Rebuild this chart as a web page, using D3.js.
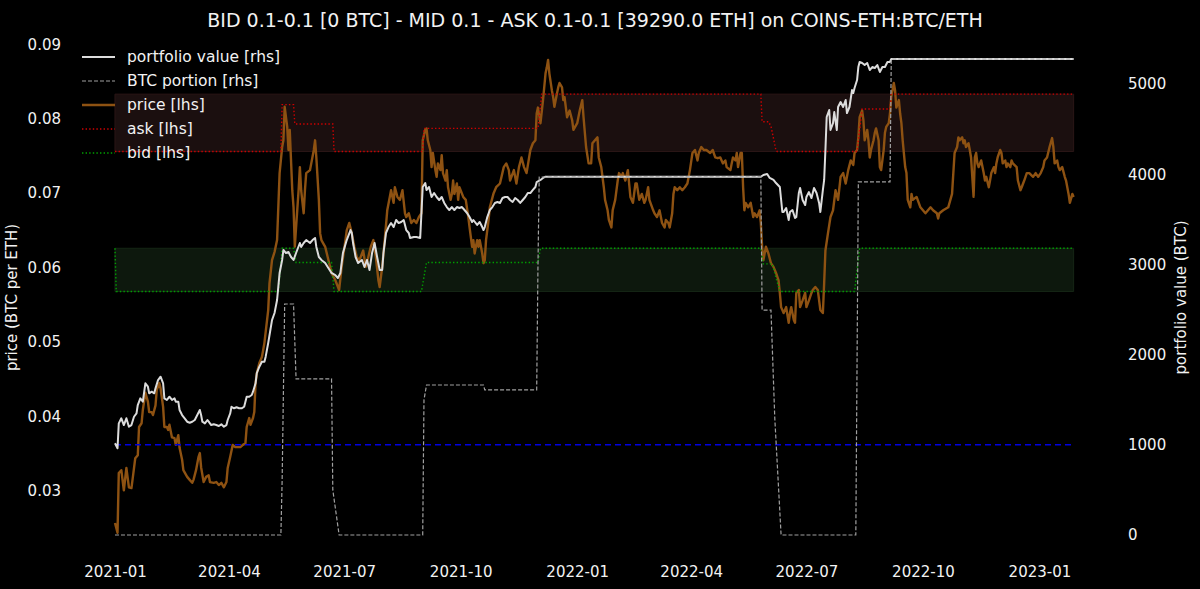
<!DOCTYPE html>
<html lang="en">
<head>
<meta charset="utf-8">
<title>BID / MID / ASK on COINS-ETH:BTC/ETH</title>
<script src="https://cdn.jsdelivr.net/npm/d3@7"></script>
<style>
  body { margin: 0; background: #000; }
  svg { display: block; font-family: "DejaVu Sans", sans-serif; }
</style>
</head>
<body>
<script>
// days are counted from 2021-01-01
var startDay = Date.UTC(2021, 0, 1);
var lastDay = 757;

var titleText = "BID 0.1-0.1 [0 BTC] - MID 0.1 - ASK 0.1-0.1 [39290.0 ETH] on COINS-ETH:BTC/ETH";
var xTicks = ["2021-01-01", "2021-04-01", "2021-07-01", "2021-10-01", "2022-01-01",
              "2022-04-01", "2022-07-01", "2022-10-01", "2023-01-01"];
var leftTicks = [0.03, 0.04, 0.05, 0.06, 0.07, 0.08, 0.09];
var rightTicks = [0, 1000, 2000, 3000, 4000, 5000];
var startValue = 1000;

// price [lhs], BTC per ETH
var price = [
[0,.0257],[2,.0244],[3,.0324],[5,.0328],[7,.0301],[9,.0331],[11,.0305],[13,.0304],[14,.0317],[16,.0344],[18,.0348],[19,.0386],[21,.0391],[22,.0409],[24,.0432],[26,.0420],[27,.0406],[29,.0406],[30,.0402],[32,.0415],[33,.0436],[35,.0445],[36,.0438],[38,.0413],[39,.0386],[41,.0386],[42,.0382],[43,.0389],[45,.0372],[47,.0371],[48,.0362],[50,.0375],[51,.0358],[53,.0342],[54,.0328],[57,.0319],[59,.0315],[61,.0311],[62,.0315],[64,.0328],[66,.0346],[67,.0351],[68,.0332],[70,.0312],[72,.0319],[74,.0321],[75,.0312],[78,.0311],[80,.0312],[82,.0308],[84,.0311],[86,.0305],[88,.0312],[89,.0331],[91,.0346],[93,.0362],[95,.0359],[99,.0359],[101,.0362],[103,.0364],[104,.0386],[106,.0398],[107,.0389],[109,.0398],[110,.0406],[111,.0445],[112,.0458],[114,.0472],[116,.0480],[117,.0489],[118,.0499],[121,.0543],[122,.0579],[124,.0610],[126,.0621],[128,.0637],[130,.0727],[132,.0762],[133,.0771],[134,.0816],[136,.0789],[137,.0758],[138,.0785],[140,.0704],[141,.0681],[142,.0628],[143,.0654],[145,.0704],[146,.0735],[147,.0704],[149,.0673],[150,.0704],[151,.0727],[154,.0731],[157,.0758],[158,.0771],[159,.0748],[161,.0691],[162,.0646],[163,.0637],[166,.0628],[168,.0614],[171,.0593],[174,.0583],[177,.0570],[179,.0601],[182,.0637],[183,.0650],[185,.0660],[187,.0646],[189,.0628],[191,.0614],[193,.0610],[196,.0623],[198,.0601],[200,.0614],[202,.0628],[204,.0637],[206,.0614],[208,.0583],[209,.0574],[211,.0601],[213,.0637],[215,.0677],[217,.0695],[218,.0704],[220,.0687],[221,.0708],[223,.0695],[225,.0691],[227,.0704],[229,.0673],[230,.0668],[232,.0673],[234,.0660],[236,.0664],[238,.0660],[240,.0668],[242,.0673],[243,.0771],[245,.0785],[246,.0787],[247,.0771],[249,.0758],[250,.0735],[251,.0754],[253,.0731],[254,.0722],[255,.0740],[257,.0731],[258,.0751],[259,.0727],[261,.0717],[262,.0731],[263,.0708],[265,.0691],[266,.0699],[267,.0717],[268,.0699],[270,.0713],[271,.0691],[272,.0708],[275,.0695],[277,.0691],[279,.0668],[280,.0654],[282,.0628],[283,.0637],[284,.0619],[286,.0637],[287,.0628],[288,.0637],[290,.0619],[291,.0606],[292,.0610],[293,.0637],[295,.0664],[296,.0681],[299,.0700],[301,.0708],[304,.0713],[307,.0735],[309,.0740],[311,.0731],[312,.0717],[315,.0731],[317,.0713],[319,.0735],[321,.0748],[323,.0735],[325,.0727],[328,.0758],[330,.0767],[332,.0771],[333,.0807],[334,.0815],[336,.0794],[338,.0825],[340,.0861],[341,.0869],[342,.0879],[343,.0861],[345,.0838],[346,.0829],[347,.0816],[349,.0834],[350,.0842],[351,.0848],[353,.0842],[354,.0825],[355,.0829],[357,.0802],[359,.0811],[361,.0798],[362,.0785],[365,.0794],[367,.0811],[369,.0825],[370,.0802],[372,.0762],[374,.0740],[376,.0740],[377,.0767],[379,.0771],[381,.0775],[382,.0748],[384,.0735],[386,.0708],[387,.0691],[389,.0677],[390,.0664],[392,.0654],[393,.0677],[395,.0691],[397,.0717],[398,.0727],[400,.0722],[401,.0727],[403,.0717],[405,.0731],[406,.0713],[407,.0695],[409,.0687],[411,.0713],[412,.0713],[414,.0691],[416,.0699],[418,.0687],[419,.0691],[421,.0708],[422,.0691],[425,.0677],[426,.0673],[428,.0668],[430,.0677],[432,.0660],[434,.0654],[435,.0664],[437,.0660],[438,.0654],[440,.0673],[441,.0699],[442,.0708],[444,.0704],[446,.0708],[448,.0704],[450,.0708],[452,.0713],[454,.0731],[456,.0754],[458,.0758],[460,.0744],[461,.0754],[463,.0762],[465,.0758],[467,.0758],[470,.0754],[472,.0758],[474,.0748],[476,.0747],[478,.0748],[480,.0740],[482,.0744],[483,.0735],[486,.0731],[487,.0740],[488,.0748],[490,.0744],[491,.0754],[492,.0735],[494,.0754],[495,.0754],[496,.0708],[497,.0677],[498,.0687],[500,.0681],[502,.0687],[504,.0668],[505,.0673],[507,.0668],[509,.0677],[510,.0660],[511,.0628],[512,.0610],[514,.0628],[516,.0619],[518,.0606],[520,.0601],[522,.0593],[524,.0583],[525,.0566],[526,.0547],[528,.0539],[530,.0547],[532,.0526],[533,.0539],[534,.0547],[536,.0530],[537,.0526],[538,.0566],[540,.0570],[541,.0547],[543,.0556],[545,.0566],[546,.0547],[548,.0556],[550,.0566],[551,.0570],[553,.0574],[555,.0570],[557,.0543],[559,.0539],[560,.0579],[561,.0623],[563,.0646],[565,.0668],[567,.0677],[569,.0704],[571,.0691],[573,.0722],[575,.0727],[577,.0713],[579,.0731],[581,.0744],[583,.0738],[584,.0754],[586,.0758],[587,.0775],[588,.0802],[590,.0811],[591,.0798],[592,.0771],[594,.0785],[595,.0771],[596,.0748],[597,.0758],[599,.0771],[600,.0781],[601,.0787],[603,.0771],[604,.0735],[605,.0731],[607,.0758],[608,.0781],[609,.0789],[611,.0794],[612,.0807],[613,.0829],[615,.0848],[616,.0838],[617,.0815],[619,.0825],[620,.0807],[621,.0794],[622,.0771],[624,.0735],[625,.0727],[626,.0691],[628,.0681],[629,.0699],[630,.0691],[633,.0695],[636,.0681],[640,.0673],[644,.0681],[646,.0677],[649,.0673],[650,.0666],[651,.0673],[654,.0677],[658,.0681],[661,.0699],[662,.0727],[663,.0754],[665,.0762],[666,.0775],[667,.0771],[669,.0775],[670,.0767],[671,.0771],[672,.0762],[674,.0767],[675,.0758],[676,.0748],[678,.0695],[679,.0748],[680,.0754],[681,.0740],[682,.0735],[684,.0744],[686,.0727],[687,.0717],[688,.0722],[690,.0708],[691,.0717],[692,.0727],[694,.0735],[695,.0727],[696,.0740],[697,.0748],[699,.0758],[700,.0754],[701,.0740],[703,.0744],[704,.0735],[705,.0740],[707,.0735],[708,.0744],[709,.0740],[712,.0735],[713,.0717],[715,.0704],[716,.0708],[718,.0717],[720,.0727],[722,.0727],[725,.0722],[727,.0727],[729,.0722],[731,.0727],[733,.0735],[734,.0744],[736,.0748],[738,.0762],[740,.0774],[741,.0762],[742,.0740],[744,.0744],[745,.0735],[746,.0731],[748,.0735],[750,.0722],[751,.0717],[753,.0699],[754,.0687],[756,.0699],[757,.0695]
];

// portfolio value [rhs], BTC
var portfolio = [
[0,1017],[2,961],[3,1238],[5,1294],[7,1219],[9,1294],[11,1201],[13,1219],[15,1311],[17,1349],[18,1441],[20,1515],[22,1478],[24,1682],[26,1644],[27,1571],[29,1589],[31,1571],[32,1626],[34,1718],[36,1755],[38,1682],[39,1515],[41,1497],[43,1533],[45,1497],[47,1515],[48,1478],[50,1478],[51,1386],[53,1330],[55,1294],[57,1256],[59,1245],[61,1256],[63,1275],[65,1330],[67,1386],[68,1330],[69,1256],[71,1238],[73,1275],[74,1256],[76,1219],[78,1227],[80,1219],[82,1208],[84,1227],[86,1201],[88,1219],[89,1275],[91,1349],[92,1422],[94,1405],[96,1416],[98,1405],[100,1405],[102,1422],[103,1478],[104,1533],[106,1533],[108,1552],[109,1589],[111,1682],[112,1796],[114,1866],[116,1921],[118,1921],[119,1977],[121,2129],[124,2383],[126,2461],[128,2605],[130,2905],[132,3049],[133,3160],[135,3126],[137,3137],[139,3082],[141,3049],[143,3126],[146,3237],[147,3193],[149,3237],[151,3270],[154,3237],[156,3270],[158,3293],[159,3193],[161,3082],[163,3049],[166,3015],[168,2971],[171,2905],[174,2882],[176,2849],[178,2905],[180,3126],[183,3270],[186,3381],[187,3348],[188,3237],[190,3082],[192,3015],[195,3049],[197,2971],[199,3049],[201,2938],[203,3126],[205,3237],[207,3082],[209,2938],[211,2938],[212,3126],[214,3348],[216,3414],[218,3459],[220,3414],[222,3492],[224,3459],[226,3470],[228,3492],[230,3381],[232,3348],[233,3293],[236,3304],[238,3304],[241,3293],[242,3570],[243,3858],[245,3902],[246,3825],[248,3858],[250,3747],[252,3791],[254,3747],[256,3714],[258,3747],[260,3681],[262,3636],[264,3603],[266,3636],[268,3603],[270,3636],[272,3625],[274,3636],[276,3603],[278,3570],[280,3525],[282,3470],[283,3492],[286,3437],[288,3470],[290,3414],[291,3381],[292,3414],[294,3525],[296,3603],[298,3636],[300,3681],[302,3692],[304,3681],[306,3736],[308,3747],[310,3747],[312,3714],[314,3692],[316,3736],[318,3714],[320,3681],[322,3714],[324,3747],[326,3791],[328,3791],[330,3825],[332,3858],[333,3913],[336,3936],[338,3958],[340,3972],[510,3972],[512,3991],[515,4002],[517,3958],[520,3936],[522,3902],[525,3858],[527,3581],[528,3581],[530,3625],[532,3492],[533,3581],[535,3603],[537,3514],[538,3525],[540,3791],[541,3847],[543,3714],[545,3658],[546,3747],[548,3802],[550,3736],[552,3847],[554,3791],[556,3681],[557,3581],[559,3825],[560,3936],[561,4268],[562,4634],[564,4712],[565,4490],[567,4567],[568,4689],[570,4490],[571,4745],[573,4800],[575,4745],[577,4822],[578,4678],[580,4745],[582,4933],[583,4900],[584,4955],[586,5044],[587,5188],[588,5244],[590,5233],[592,5210],[594,5233],[596,5155],[598,5188],[600,5177],[602,5210],[604,5133],[606,5188],[608,5188],[610,5244],[612,5244],[613,5277],[757,5277]
];

// BTC portion [rhs]
var btcPortion = [
[0,0],[131,0],[132,610],[134,2561],[141,2561],[143,1730],[171,1730],[172,500],[177,0],[243,0],[244,1497],[246,1663],[291,1663],[292,1608],[333,1608],[334,2971],[335,3969],[510,3972],[511,2494],[518,2494],[521,1300],[526,0],[585,0],[587,3914],[612,3914],[613,5277],[757,5277]
];

// ask / bid grid levels [lhs]
var ask = [
[0,.0756],[131,.0756],[132,.0819],[141,.0819],[142,.0793],[172,.0793],[173,.0756],[243,.0756],[244,.0787],[334,.0787],[337,.0833],[510,.0833],[511,.0796],[516,.0796],[518,.0790],[522,.0757],[523,.0756],[586,.0756],[590,.0813],[612,.0813],[613,.0833],[757,.0833]
];
var bid = [
[0,.0626],[1,.0568],[129,.0568],[132,.0626],[141,.0626],[143,.0607],[171,.0607],[173,.0568],[242,.0568],[246,.0607],[334,.0607],[336,.0626],[510,.0626],[512,.0605],[519,.0605],[525,.0568],[584,.0568],[588,.0626],[757,.0626]
];

var W = 1200, H = 589;
var plot = {left: 68, right: 1122, top: 36, bottom: 559};

function toDate(d) { return new Date(startDay + d * 864e5); }

var x = d3.scaleUtc()
  .domain([toDate(-37.1), toDate(795.2)])
  .range([plot.left, plot.right]);
var yL = d3.scaleLinear().domain([0.02087, 0.09111]).range([plot.bottom, plot.top]);
var yR = d3.scaleLinear().domain([-266, 5532]).range([plot.bottom, plot.top]);

var svg = d3.select("body").append("svg")
  .attr("width", W)
  .attr("height", H);

svg.append("rect").attr("width", W).attr("height", H).attr("fill", "#000");

// ask / bid bands
function band(levels, color, edge) {
  var lo = d3.min(levels, function(d) { return d[1]; });
  var hi = d3.max(levels, function(d) { return d[1]; });
  var area = d3.area()
    .x(function(d) { return x(toDate(d)); })
    .y0(yL(lo))
    .y1(yL(hi));
  svg.append("path")
    .datum([0, lastDay])
    .attr("d", area)
    .attr("fill", color)
    .attr("stroke", edge)
    .attr("stroke-width", 1);
}
band(ask, "#1b0f0f", "#2a1616");
band(bid, "#0d180d", "#152615");

var lineL = d3.line()
  .x(function(d) { return x(toDate(d[0])); })
  .y(function(d) { return yL(d[1]); });
var lineR = d3.line()
  .x(function(d) { return x(toDate(d[0])); })
  .y(function(d) { return yR(d[1]); });

var priceColor = "#8e5212";

svg.append("path").datum(price)
  .attr("d", lineL).attr("fill", "none")
  .attr("stroke", priceColor).attr("stroke-width", 2.4)
  .attr("stroke-linejoin", "round");

svg.append("path").datum(ask)
  .attr("d", lineL).attr("fill", "none")
  .attr("stroke", "#d00000").attr("stroke-width", 1.4)
  .attr("stroke-dasharray", "1.4,2.2");

svg.append("path").datum(bid)
  .attr("d", lineL).attr("fill", "none")
  .attr("stroke", "#00a000").attr("stroke-width", 1.4)
  .attr("stroke-dasharray", "1.4,2.2");

// starting value
svg.append("line")
  .attr("x1", x(toDate(0))).attr("x2", x(toDate(lastDay)))
  .attr("y1", yR(startValue)).attr("y2", yR(startValue))
  .attr("stroke", "#0000e0").attr("stroke-width", 1.6)
  .attr("stroke-dasharray", "6,4");

svg.append("path").datum(portfolio)
  .attr("d", lineR).attr("fill", "none")
  .attr("stroke", "#dcdcdc").attr("stroke-width", 2)
  .attr("stroke-linejoin", "round");

svg.append("path").datum(btcPortion)
  .attr("d", lineR).attr("fill", "none")
  .attr("stroke", "#a0a0a0").attr("stroke-width", 1.2)
  .attr("stroke-dasharray", "4,2");

// axes
var fmt = d3.utcFormat("%Y-%m");
var xAxis = svg.append("g")
  .attr("transform", "translate(0," + plot.bottom + ")")
  .call(d3.axisBottom(x)
    .tickValues(xTicks.map(function(s) { return new Date(s + "T00:00:00Z"); }))
    .tickFormat(fmt).tickSize(0).tickPadding(7));

var leftAxis = svg.append("g")
  .attr("transform", "translate(" + plot.left + ",0)")
  .call(d3.axisLeft(yL).tickValues(leftTicks)
    .tickFormat(d3.format(".2f")).tickSize(0).tickPadding(7));

var rightAxis = svg.append("g")
  .attr("transform", "translate(" + plot.right + ",0)")
  .call(d3.axisRight(yR).tickValues(rightTicks)
    .tickFormat(d3.format("d")).tickSize(0).tickPadding(6));

[xAxis, leftAxis, rightAxis].forEach(function(g) {
  g.select(".domain").remove();
  g.selectAll("text")
    .attr("fill", "#f2f2f2")
    .attr("font-size", "15px")
    .attr("font-family", "DejaVu Sans, sans-serif");
});

svg.append("text")
  .attr("transform", "translate(17," + ((plot.top + plot.bottom) / 2) + ") rotate(-90)")
  .attr("text-anchor", "middle")
  .attr("fill", "#f2f2f2").attr("font-size", "15px")
  .text("price (BTC per ETH)");

svg.append("text")
  .attr("transform", "translate(1186," + ((plot.top + plot.bottom) / 2) + ") rotate(-90)")
  .attr("text-anchor", "middle")
  .attr("fill", "#f2f2f2").attr("font-size", "15px")
  .text("portfolio value (BTC)");

svg.append("text")
  .attr("x", (plot.left + plot.right) / 2).attr("y", 27)
  .attr("text-anchor", "middle")
  .attr("fill", "#f2f2f2").attr("font-size", "19px")
  .text(titleText);

// legend
var legendItems = [
  {label: "portfolio value [rhs]", color: "#dcdcdc", width: 2, dash: null},
  {label: "BTC portion [rhs]", color: "#a0a0a0", width: 1.2, dash: "4,2"},
  {label: "price [lhs]", color: priceColor, width: 2.4, dash: null},
  {label: "ask [lhs]", color: "#d00000", width: 1.4, dash: "1.4,2.2"},
  {label: "bid [lhs]", color: "#00a000", width: 1.4, dash: "1.4,2.2"}
];
var legend = svg.append("g").attr("transform", "translate(82,57)");
var rows = legend.selectAll("g").data(legendItems).enter().append("g")
  .attr("transform", function(d, i) { return "translate(0," + (i * 24) + ")"; });
rows.append("line")
  .attr("x1", 0).attr("x2", 33).attr("y1", 0).attr("y2", 0)
  .attr("stroke", function(d) { return d.color; })
  .attr("stroke-width", function(d) { return d.width; })
  .attr("stroke-dasharray", function(d) { return d.dash; });
rows.append("text")
  .attr("x", 45).attr("y", 0).attr("dy", "0.35em")
  .attr("fill", "#f2f2f2").attr("font-size", "15.5px")
  .text(function(d) { return d.label; });
</script>
</body>
</html>
